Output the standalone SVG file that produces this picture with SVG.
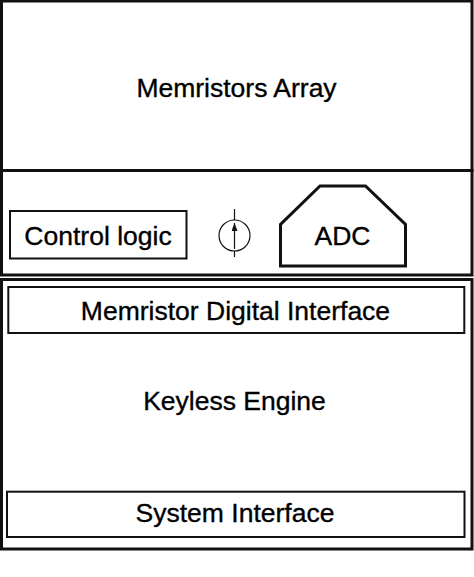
<svg xmlns="http://www.w3.org/2000/svg" width="474" height="577" viewBox="0 0 474 577">
<style>
.frame{fill:none;stroke:#111;stroke-width:3}
.box{fill:none;stroke:#111;stroke-width:2}
.adc{fill:none;stroke:#111;stroke-width:3;stroke-linejoin:miter}
.sym{fill:none;stroke:#111;stroke-width:1.2}
.t{font-family:"Liberation Sans",Arial,sans-serif;font-size:26.5px;fill:#000;stroke:#000;stroke-width:0.35;text-anchor:middle}
</style>
<defs>
<marker id="ah" viewBox="0 0 8 6" refX="8" refY="3" markerWidth="8" markerHeight="6" markerUnits="userSpaceOnUse" orient="auto">
<path d="M0,0 L8,3 L0,6 Z" fill="#111"/>
</marker>
</defs>
<rect width="474" height="577" fill="#fff"/>
<g id="memristors-array">
<rect class="frame" x="1.5" y="1" width="470.5" height="169.5"/>
<text class="t" x="236.5" y="96.5">Memristors Array</text>
</g>
<g id="analog-layer">
<rect class="frame" x="1.5" y="170.5" width="470.5" height="104.5"/>
</g>
<g id="control-logic">
<rect class="box" x="10" y="211" width="176.5" height="47.5"/>
<text class="t" x="98" y="244.5">Control logic</text>
</g>
<g id="current-source">
<line class="sym" x1="234.5" y1="209" x2="234.5" y2="220"/>
<circle class="sym" cx="234.5" cy="235.5" r="15.5"/>
<line class="sym" x1="234.5" y1="251" x2="234.5" y2="257"/>
<line class="sym" x1="234.5" y1="249" x2="234.5" y2="223" marker-end="url(#ah)"/>
</g>
<g id="adc">
<path class="adc" d="M280.5,266 L280.5,224.5 L320,186 L365.5,186 L405.5,224.5 L405.5,266 Z"/>
<text class="t" x="342.5" y="244.5">ADC</text>
</g>
<g id="keyless-engine">
<rect class="frame" x="1.5" y="279.5" width="470.5" height="269.5"/>
<text class="t" x="234.5" y="409.5">Keyless Engine</text>
</g>
<g id="memristor-digital-interface">
<rect class="box" x="8.3" y="287" width="456" height="46"/>
<text class="t" x="235.5" y="320" font-size="26.8">Memristor Digital Interface</text>
</g>
<g id="system-interface">
<rect class="box" x="7" y="491.7" width="457.5" height="45.3"/>
<text class="t" x="235" y="521.7">System Interface</text>
</g>
<g id="connectors"></g>
</svg>
